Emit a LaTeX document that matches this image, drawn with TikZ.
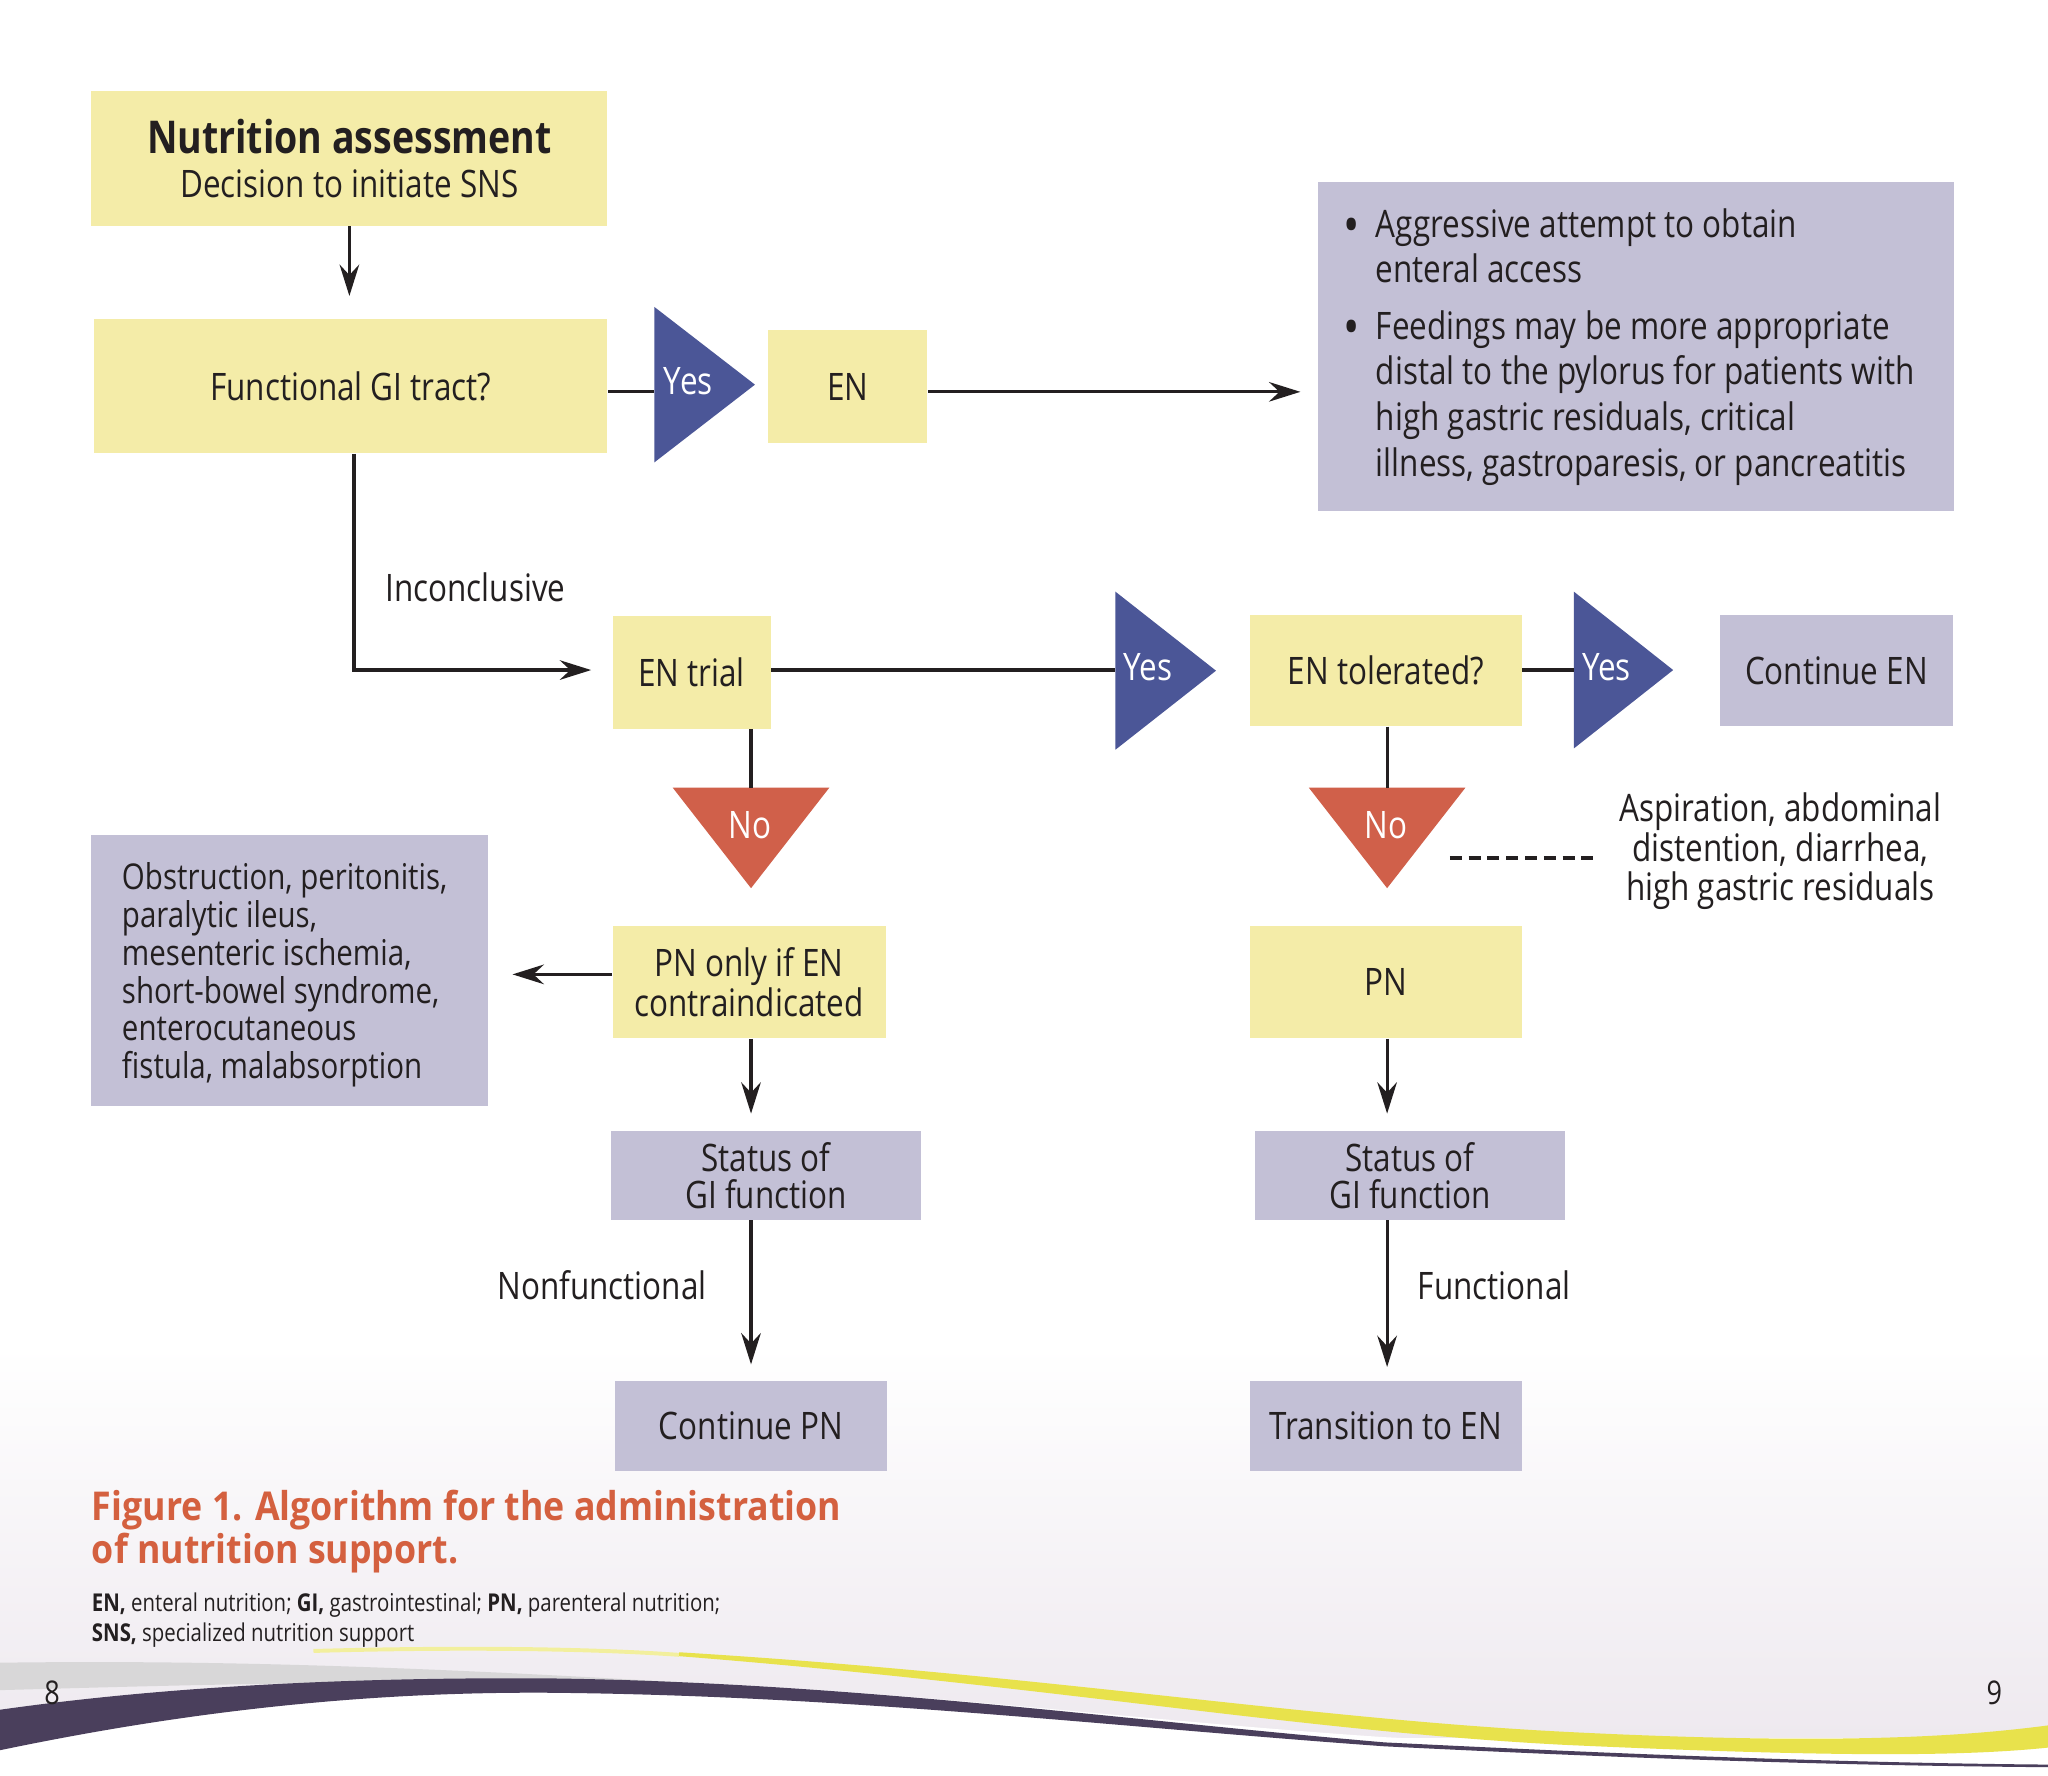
\documentclass[tikz,border=0pt]{standalone}
\usepackage{fontspec}
\setmainfont{Open Sans}[FakeStretch=0.83]
\newfontfamily\capfont{Open Sans}[FakeStretch=0.9]
\usetikzlibrary{arrows.meta}
\definecolor{boxy}{HTML}{F4ECA8}
\definecolor{boxl}{HTML}{C3C0D6}
\definecolor{triblue}{HTML}{4B5697}
\definecolor{trired}{HTML}{D0604A}
\definecolor{ink}{HTML}{231F20}
\definecolor{capred}{HTML}{D4603F}
\definecolor{swdark}{HTML}{4A3F5C}
\definecolor{swyel}{HTML}{E8E24C}
\definecolor{bgpale}{HTML}{EEE9EF}
\newcommand\mainsz{\fontsize{14.5}{14}\selectfont}
\newcommand\bigbul{\raisebox{-2.4pt}{\fontsize{20}{20}\selectfont\textbullet}}
\begin{document}
\begin{tikzpicture}[x=0.5pt,y=-0.5pt,
  ybox/.style={fill=boxy, inner sep=0pt, text=ink, font=\mainsz, align=center},
  lbox/.style={fill=boxl, inner sep=0pt, text=ink, font=\mainsz, align=center},
  conn/.style={line width=1.2pt, draw=ink},
  arr/.style={conn, -{Stealth[length=12pt,width=7.5pt,inset=4pt]}},
  lbl/.style={text=ink, font=\mainsz, inner sep=0pt},
  tritxt/.style={text=white, font=\mainsz, inner sep=0pt},
  dashline/.style={line width=1.3pt, draw=ink, dash pattern=on 4.6pt off 2.6pt}]
\fill[white] (0,0) rectangle (1568,1359);
\useasboundingbox (0,0) rectangle (1568,1359);
% ---- bottom background ----
\shade[top color=white, bottom color=bgpale] (0,1030) rectangle (1568,1330);
\fill[white] (0,1309) .. controls (120,1292) and (260,1284) .. (420,1285) .. controls (650,1288) and (850,1316) .. (1060,1330) .. controls (1300,1342) and (1450,1342) .. (1568,1336) -- (1568,1359) -- (0,1359) -- cycle;
\fill[gray!35, opacity=0.8] (0,1273) .. controls (150,1271) and (300,1275) .. (520,1288) -- (520,1291) .. controls (300,1285) and (150,1290) .. (0,1294) -- cycle;
\draw[swyel!55, line width=1.5pt] (240,1264) .. controls (350,1261) and (450,1262) .. (520,1267);
\fill[swyel] (520,1265) .. controls (800,1282) and (1000,1316) .. (1200,1326) .. controls (1400,1336) and (1500,1330) .. (1568,1321) -- (1568,1338) .. controls (1500,1345) and (1400,1345) .. (1200,1336) .. controls (1000,1326) and (800,1290) .. (520,1268) -- cycle;
\fill[swdark] (0,1309) .. controls (120,1292) and (260,1284) .. (420,1285) .. controls (650,1288) and (850,1316) .. (1060,1334) .. controls (1300,1346) and (1450,1350) .. (1568,1351) -- (1568,1353) .. controls (1450,1352) and (1300,1349) .. (1060,1337) .. controls (850,1322) and (650,1298) .. (420,1296) .. controls (260,1295) and (120,1315) .. (0,1340) -- cycle;
\node[text=ink, font=\fontsize{12.5}{14}\selectfont, inner sep=0pt] (p8) at (40,1296) {8};
\node[text=ink, font=\fontsize{12.5}{14}\selectfont, inner sep=0pt] (p9) at (1527,1296) {9};
% ---- boxes ----
\node[ybox, minimum width=197.5pt, minimum height=51.5pt] (nut) at (267.5,121.5)
  {{\fontsize{17.3}{20}\selectfont\bfseries Nutrition assessment}\\[3pt]Decision to initiate SNS};
\node[ybox, minimum width=196.5pt, minimum height=51.5pt] (fgi) at (268.5,295.5) {Functional GI tract?};
\node[ybox, minimum width=61pt, minimum height=43pt] (en) at (649,296) {EN};
\node[lbox, minimum width=243.5pt, minimum height=126pt] (blt) at (1252.5,265) {};
\node[lbl, anchor=base west, font=\fontsize{14.5}{17.5}\selectfont] (blttxt) at (1028,181.6)
  {\begin{tabular}[t]{@{}p{12.5pt}@{}l@{}}
  \bigbul & Aggressive attempt to obtain\\
   & enteral access\\[4pt]
  \bigbul & Feedings may be more appropriate\\
   & distal to the pylorus for patients with\\
   & high gastric residuals, critical\\
   & illness, gastroparesis, or pancreatitis
  \end{tabular}};
\node[ybox, minimum width=60.5pt, minimum height=43pt] (entrial) at (529.5,515) {EN trial};
\node[ybox, minimum width=104pt, minimum height=42.5pt] (entol) at (1061,513.5) {EN tolerated?};
\node[lbox, minimum width=89pt, minimum height=42.5pt] (conten) at (1406,513.5) {Continue EN};
\node[ybox, minimum width=104.5pt, minimum height=43pt] (pnonly) at (573.5,752) {PN only if EN\\contraindicated};
\node[lbox, minimum width=152pt, minimum height=104pt] (obst) at (222,743) {};
\node[lbl, anchor=base west, font=\fontsize{13.6}{14.1}\selectfont] (obsttxt) at (93,680.8)
  {\begin{tabular}[t]{@{}l@{}}
  Obstruction, peritonitis,\\
  paralytic ileus,\\
  mesenteric ischemia,\\
  short-bowel syndrome,\\
  enterocutaneous\\
  fistula, malabsorption
  \end{tabular}};
\node[lbox, minimum width=118.5pt, minimum height=34pt] (statL) at (586.5,900) {Status of\\GI function};
\node[lbox, minimum width=104pt, minimum height=34.5pt] (contpn) at (575,1091.5) {Continue PN};
\node[ybox, minimum width=104pt, minimum height=43pt] (pn) at (1061,752) {PN};
\node[lbox, minimum width=118.5pt, minimum height=34pt] (statR) at (1079.5,900) {Status of\\GI function};
\node[lbox, minimum width=104pt, minimum height=34.5pt] (trans) at (1061,1091.5) {Transition to EN};
% ---- triangles ----
\fill[triblue] (501,235) -- (578,294.5) -- (501,354) -- cycle;
\fill[triblue] (854,453) -- (931,513.5) -- (854,574) -- cycle;
\fill[triblue] (1205,453) -- (1281,513) -- (1205,573) -- cycle;
\fill[trired] (515,603) -- (635,603) -- (575,680) -- cycle;
\fill[trired] (1002,603) -- (1122,603) -- (1062,680) -- cycle;
\coordinate (t1l) at (501,300);
\coordinate (t2l) at (854,513);
\coordinate (t3l) at (1205,513);
\coordinate (n1t) at (575,603);
\coordinate (n2t) at (1062,603);
\coordinate (dsA) at (1110,657);
\coordinate (dsB) at (1221,657);
\coordinate (pnw) at ([yshift=3pt]pnonly.west);
\node[tritxt] (yes1) at (527,292) {Yes};
\node[tritxt] (yes2) at (879,511) {Yes};
\node[tritxt] (yes3) at (1230,511) {Yes};
\node[tritxt] (no1) at (574,632) {No};
\node[tritxt] (no2) at (1061,632) {No};
% ---- labels ----
\node[lbl] (inc) at (364,450) {Inconclusive};
\node[lbl] (nonf) at (461,984) {Nonfunctional};
\node[lbl] (func) at (1144,984) {Functional};
\node[lbl, anchor=base, font=\fontsize{14.5}{13.7}\selectfont] (asp) at (1363,629)
  {\begin{tabular}[t]{@{}c@{}}Aspiration, abdominal\\distention, diarrhea,\\high gastric residuals\end{tabular}};
% ---- connectors ----
\draw[arr, shorten >=8.5pt] (nut.south) -- (nut.south |- fgi.north);
\draw[conn] (fgi.east |- t1l) -- (t1l);
\draw[arr, shorten >=6.5pt] (en.east |- t1l) -- (blt.west |- t1l);
\draw[arr, shorten >=8pt] ([xshift=1.25pt]fgi.south) |- ([yshift=1pt]entrial.west);
\draw[conn] (entrial.east |- t2l) -- (t2l);
\draw[conn] (entol.east |- t3l) -- (t3l);
\draw[conn] (entrial.south -| n1t) -- (n1t);
\draw[conn] (entol.south -| n2t) -- (n2t);
\draw[dashline] (dsA) -- (dsB);
\draw[arr, shorten >=9pt] (pnw) -- (obst.east |- pnw);
\draw[arr, shorten >=6.5pt] (pnonly.south -| n1t) -- (statL.north -| n1t);
\draw[arr, shorten >=6pt] (statL.south -| n1t) -- (contpn.north -| n1t);
\draw[arr, shorten >=6.5pt] (pn.south -| n2t) -- (statR.north -| n2t);
\draw[arr, shorten >=5pt] (statR.south -| n2t) -- (trans.north -| n2t);
% ---- caption ----
\node[anchor=base west, inner sep=0pt, text=capred, font=\capfont\bfseries\fontsize{15.2}{16}\selectfont] (cap1) at (70,1164.4) {Figure 1. Algorithm for the administration};
\node[anchor=base west, inner sep=0pt, text=capred, font=\capfont\bfseries\fontsize{15.2}{16}\selectfont] (cap2) at (70,1197) {of nutrition support.};
\node[anchor=base west, inner sep=0pt, text=ink, font=\fontsize{9.4}{11}\selectfont] (fn1) at (70,1234) {\textbf{EN,} enteral nutrition; \textbf{GI,} gastrointestinal; \textbf{PN,} parenteral nutrition;};
\node[anchor=base west, inner sep=0pt, text=ink, font=\fontsize{9.4}{11}\selectfont] (fn2) at (70,1257) {\textbf{SNS,} specialized nutrition support};
\end{tikzpicture}
\end{document}
